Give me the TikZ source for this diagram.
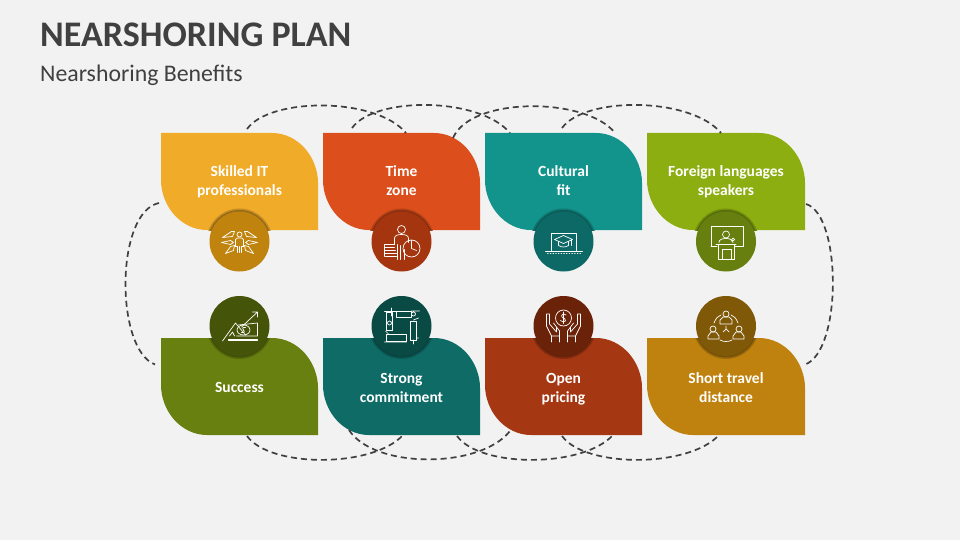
\documentclass[tikz,border=0pt]{standalone}
\usepackage{fontspec}
\setmainfont{Carlito}
\usetikzlibrary{positioning}
\definecolor{pagegray}{HTML}{F2F2F2}
\definecolor{inkgray}{HTML}{404040}
\definecolor{cardyellow}{HTML}{F0AB28}
\definecolor{cardorange}{HTML}{DC4E1B}
\definecolor{cardteal}{HTML}{12938B}
\definecolor{cardlime}{HTML}{8CAE10}
\definecolor{cardolive}{HTML}{68800F}
\definecolor{cardpine}{HTML}{0E6B66}
\definecolor{cardrust}{HTML}{A53712}
\definecolor{cardochre}{HTML}{C0820E}
\definecolor{dotochre}{HTML}{C0840E}
\definecolor{dotrust}{HTML}{A5350F}
\definecolor{dotpine}{HTML}{0D6966}
\definecolor{dotolive}{HTML}{667F0F}
\definecolor{dotmoss}{HTML}{445408}
\definecolor{dotdeep}{HTML}{0A4A45}
\definecolor{dotbrown}{HTML}{6A2208}
\definecolor{dotumber}{HTML}{7F5808}
\newcommand{\upstrut}{\rule[-4pt]{0pt}{17.6pt}}
\newcommand{\lowstrut}{\rule[-2.8pt]{0pt}{18.2pt}}
\tikzset{
  leafcard/.style 2 args={minimum width=157pt, minimum height=97pt, inner sep=0pt, outer sep=0pt, align=center,
    text=white, font=\fontsize{15.5}{19}\selectfont\bfseries,
    path picture={\fill [#1] (path picture bounding box.north west)
      -- ([xshift=-46pt]path picture bounding box.north east)
      .. controls ([xshift=-20pt]path picture bounding box.north east)
      and ([yshift=-24pt]path picture bounding box.north east)
      .. ([yshift=-50pt]path picture bounding box.north east)
      -- (path picture bounding box.south east)
      -- ([xshift=46pt]path picture bounding box.south west)
      .. controls ([xshift=20pt]path picture bounding box.south west)
      and ([yshift=24pt]path picture bounding box.south west)
      .. ([yshift=50pt]path picture bounding box.south west)
      -- cycle;
      % the dark edge a disc leaves on its card
      \draw [#1!82!black, line width=6pt] ([yshift=#2]path picture bounding box.center) circle [radius=30pt];
      \draw [#1!62!black, line width=3pt] ([yshift=#2]path picture bounding box.center) circle [radius=30pt];}},
  icondot/.style={circle, fill=#1, minimum size=60pt, inner sep=0pt, outer sep=0pt},
  linkdash/.style={draw=inkgray, line width=1.7pt, dash pattern=on 6pt off 4pt},
  iconline/.style={draw=white, line width=0.7pt, line join=round, line cap=round}
}
\begin{document}
\begin{tikzpicture}[x=1pt, y=-1pt]
        \fill [pagegray] (0,0) rectangle (960,540);
        \useasboundingbox (0,0) rectangle (960,540);
        \node [anchor=west, inner sep=0pt, text=inkgray, font=\fontsize{36}{40}\selectfont\bfseries] (title) at (40,35) {NEARSHORING PLAN};
        \node [anchor=west, inner sep=0pt, text=inkgray, font=\fontsize{23.8}{28}\selectfont] (subtitle) at (40,75) {Nearshoring Benefits};
        % top row
        \node [leafcard={cardyellow}{-60pt}, anchor=north west] (skilled) at (161,133) {Skilled IT\upstrut\\professionals\upstrut};
        \node [leafcard={cardorange}{-60pt}, right=5pt of skilled] (timezone) {Time\upstrut\\zone\upstrut};
        \node [leafcard={cardteal}{-60pt}, right=5pt of timezone] (cultural) {Cultural\upstrut\\fit\upstrut};
        \node [leafcard={cardlime}{-60pt}, right=5pt of cultural, minimum width=158pt] (languages) {Foreign languages\upstrut\\speakers\upstrut};
        % bottom row
        \node [leafcard={cardolive}{60.5pt}, below=108pt of skilled] (success) {Success\lowstrut};
        \node [leafcard={cardpine}{60.5pt}, right=5pt of success] (strong) {Strong\lowstrut\\commitment\lowstrut};
        \node [leafcard={cardrust}{60.5pt}, right=5pt of strong] (open) {Open\lowstrut\\pricing\lowstrut};
        \node [leafcard={cardochre}{60.5pt}, right=5pt of open, minimum width=158pt] (travel) {Short travel\lowstrut\\distance\lowstrut};
        % dashed links
        \draw [linkdash] ([xshift=7.5pt,yshift=4pt]skilled.north) .. controls +(23,-32) and +(-30,-36) .. ([xshift=4.5pt]timezone.north);
        \draw [linkdash] ([xshift=-49.5pt,yshift=5pt]timezone.north) .. controls +(23,-32) and +(-30,-36) .. ([xshift=-53.5pt]cultural.north);
        \draw [linkdash] ([xshift=51.5pt,yshift=-5pt]timezone.north) .. controls +(18,-42) and +(-28,-36) .. ([xshift=51.5pt]cultural.north);
        \draw [linkdash] ([xshift=-1.5pt,yshift=5pt]cultural.north) .. controls +(23,-32) and +(-30,-36) .. ([xshift=-5pt]languages.north);
        \draw [linkdash] ([xshift=-2pt,yshift=-21.5pt]skilled.west) .. controls +(-44,9) and +(-40,-15) .. ([xshift=-6pt,yshift=22pt]success.west);
        \draw [linkdash] ([xshift=1pt,yshift=-22.5pt]languages.east) .. controls +(36,11) and +(37,-13) .. ([yshift=22pt]travel.east);
        \draw [linkdash] ([xshift=7.5pt,yshift=-1pt]success.south) .. controls +(23,32) and +(-30,33) .. ([xshift=1.5pt]strong.south);
        \draw [linkdash] ([xshift=-52.5pt,yshift=5pt]strong.south) .. controls +(25,39) and +(-30,38) .. ([xshift=-53.5pt,yshift=4pt]open.south);
        \draw [linkdash] ([xshift=55.5pt,yshift=-1pt]strong.south) .. controls +(23,32) and +(-30,33) .. ([xshift=49.5pt]open.south);
        \draw [linkdash] ([xshift=-1.5pt,yshift=-1pt]open.south) .. controls +(23,32) and +(-30,33) .. ([xshift=-7pt]travel.south);
        % icon discs
        \node [icondot=dotochre, yshift=-11.5pt] (skilleddot) at (skilled.south) {};
        \node [icondot=dotrust, yshift=-11.5pt] (timezonedot) at (timezone.south) {};
        \node [icondot=dotpine, yshift=-11.5pt] (culturaldot) at (cultural.south) {};
        \node [icondot=dotolive, yshift=-11.5pt] (languagesdot) at (languages.south) {};
        \node [icondot=dotmoss, yshift=12pt] (successdot) at (success.north) {};
        \node [icondot=dotdeep, yshift=12pt] (strongdot) at (strong.north) {};
        \node [icondot=dotbrown, yshift=12pt] (opendot) at (open.north) {};
        \node [icondot=dotumber, yshift=12pt] (traveldot) at (travel.north) {};
        % skilled people icon
        \begin{scope}[shift={(skilleddot)}, iconline]
            \draw (0,-7) circle [radius=2.5pt];
            \draw (-2,11) -- (-2,5) -- (-4,5) -- (-4,-2) -- (-2,-3.5) -- (2,-3.5) -- (4,-2) -- (4,5) -- (2,5) -- (2,11) (0,11) -- (0,5);
            \draw (-17,-4) -- (-8,-10) -- (-5,-10) -- (-7,-5) -- cycle;
            \draw (-18,1) -- (-9,-1) -- (-6,1) -- (-9,3) -- cycle;
            \draw (-14,12) -- (-9,5) -- (-5,4) -- (-6,9) -- cycle;
            \draw (17,-4) -- (8,-10) -- (5,-10) -- (7,-5) -- cycle;
            \draw (18,1) -- (9,-1) -- (6,1) -- (9,3) -- cycle;
            \draw (14,12) -- (9,5) -- (5,4) -- (6,9) -- cycle;
        \end{scope}
        % time zone icon
        \begin{scope}[shift={(timezonedot)}, iconline]
            \draw (0,-12) circle [radius=4pt];
            \draw (-7,3) -- (-7,-3) .. controls (-7,-6) and (-4,-7) .. (0,-7) .. controls (4,-7) and (7,-6) .. (7,-3) -- (7,1);
            \draw (-4,18) -- (-4,3) (-1,18) -- (-1,4) (3,18) -- (3,8);
            \draw (-17,3) -- (-7,3) (-17,6) -- (-7,6) (-17,9) -- (-6,9) (-17,12) -- (-5,12) (-16,15) -- (-5,15) (-17,3) -- (-17,15);
            \draw (10,7) circle [radius=8.5pt];
            \draw (10,-1) -- (10,7) -- (15,9);
        \end{scope}
        % laptop icon
        \begin{scope}[shift={(culturaldot)}, iconline]
            \draw (-12,9) -- (-12,-8) -- (13,-8) -- (13,9);
            \draw (-18,10) -- (19,10);
            \draw [dotted] (-16,12) -- (17,12);
            \draw (-9,-2) -- (0,-6) -- (9,-2) -- (0,2) -- cycle;
            \draw (-5,0) -- (-5,4) .. controls (-2,6) and (2,6) .. (5,4) -- (5,0);
            \draw (8,-2) -- (8,4);
        \end{scope}
        % speaker icon
        \begin{scope}[shift={(languagesdot)}, iconline]
            \draw (-15,5) -- (-15,-15) -- (17,-15) -- (17,5) -- (9,5);
            \draw (-15,5) -- (-9,5);
            \draw (0,-7) circle [radius=3.5pt];
            \draw (-7,1) .. controls (-7,-2) and (-4,-3) .. (0,-3) .. controls (4,-3) and (6,-2) .. (7,1);
            \draw (7,-2) circle [radius=1.5pt];
            \draw (-10,2.5) -- (10,2.5);
            \draw (-8,3) -- (-8,18) -- (8,18) -- (8,3);
            \draw (-4,18) -- (-4,8) -- (5,8) -- (5,18);
        \end{scope}
        % success icon
        \begin{scope}[shift={(successdot)}, iconline]
            \draw (-17,15) -- (-4,-3) -- (6,9);
            \draw (2,1) -- (18,-14) (13,-14) -- (18,-14) -- (18,-9);
            \draw (-1,-1) -- (18,-3) -- (18,10) -- (-3,10);
            \draw [line width=1.1pt] (-11,14) -- (18,14);
            \draw (4,4) ellipse [x radius=6.5pt, y radius=5pt];
            \draw (6,1.5) .. controls (3,0.5) and (2,3.5) .. (4,4) .. controls (6,4.5) and (5,7.5) .. (2,6.5);
            \draw (-10,10) -- (-7,6) -- (-5,10);
        \end{scope}
        % commitment icon
        \begin{scope}[shift={(strongdot)}, iconline]
            \draw (-5,-15) rectangle (10,-9);
            \draw (9,-5) rectangle (15,14);
            \draw (-15,8) rectangle (5,15);
            \draw (-15,-14) rectangle (-9,4);
            \draw (-10,-18) -- (-10,-10) (-17,-15) -- (-5,-15);
            \draw (10,-15) -- (18,-15) (12,-12) circle [radius=2pt];
            \draw (12,-6) -- (17,-8) (12,18) -- (12,14) (15,12) -- (17,12);
            \draw (-17,16) -- (5,16) (-16,5) -- (-13,8) (-12,-3) circle [radius=2pt];
        \end{scope}
        % pricing icon
        \begin{scope}[shift={(opendot)}, iconline]
            \draw (0,-8) circle [radius=8pt];
            \draw (2.5,-11) .. controls (0,-13) and (-3,-11) .. (-1.5,-9) .. controls (0,-8) and (3,-7) .. (2,-5) .. controls (1,-3.5) and (-2,-4) .. (-3,-5.5) (0,-14) -- (0,-2.5);
            \draw (-17,-12) -- (-14,-12) -- (-14,-2) -- (-7,6) -- (-7,1) -- (-10,-3) (-7,1) -- (-4,5) -- (-4,10) (-17,-12) -- (-17,0) -- (-12,10) -- (-4,10) -- (-4,16) (-12,10) -- (-12,16);
            \draw (17,-12) -- (14,-12) -- (14,-2) -- (7,6) -- (7,1) -- (10,-3) (7,1) -- (4,5) -- (4,10) (17,-12) -- (17,0) -- (12,10) -- (4,10) -- (4,16) (12,10) -- (12,16);
        \end{scope}
        % travel icon
        \begin{scope}[shift={(traveldot)}, iconline]
            \draw (0,-12) circle [radius=3pt];
            \draw (-6,-2) -- (-6,-6) -- (-3,-9) -- (3,-9) -- (6,-6) -- (6,-2) -- cycle;
            \draw (-13,3) circle [radius=3pt];
            \draw (-18,13) -- (-18,10) -- (-15,6) -- (-10,6) -- (-7,10) -- (-7,13) -- cycle;
            \draw (13,3) circle [radius=3pt];
            \draw (18,13) -- (18,10) -- (15,6) -- (10,6) -- (7,10) -- (7,13) -- cycle;
            \draw (-12,-3) .. controls (-10,-8) and (-8,-10) .. (-5,-11);
            \draw (5,-11) .. controls (8,-10) and (10,-8) .. (12,-3);
            \draw (-6,14) .. controls (-3,16) and (3,16) .. (6,14);
            \draw (0,0) -- (0,3) (-3,6) -- (0,3) -- (3,6);
        \end{scope}
    \end{tikzpicture}
\end{document}
